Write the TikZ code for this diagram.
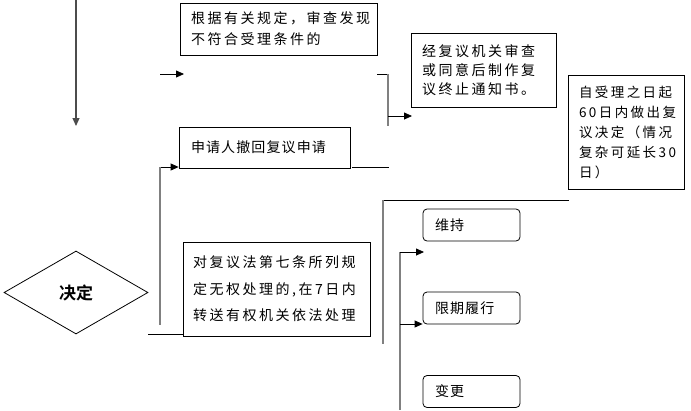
\documentclass[tikz,border=0pt]{standalone}
\usepackage{fontspec}
\usetikzlibrary{shapes.geometric,arrows.meta}
\newfontfamily\cjk{Noto Sans CJK SC}[LetterSpace=18]
\newfontfamily\cjkb{Noto Sans CJK SC}[LetterSpace=8]
\newfontfamily\cjkbold{Noto Sans CJK SC Bold}
\tikzset{
  box/.style={draw, rectangle, line width=0.8pt, inner xsep=11pt, inner ysep=0pt, align=left},
  rbox/.style={draw, rectangle, rounded corners=4pt, line width=0.8pt, inner xsep=12pt, inner ysep=0pt, align=left, text width=73pt, minimum height=32pt},
  hline/.style={line width=0.8pt, black},
  vline/.style={line width=1.1pt, gray},
  arr/.style={-{Triangle[length=8pt,width=7pt]}},
}
\begin{document}
\begin{tikzpicture}[x=1pt,y=-1pt]
\useasboundingbox (0,0) rectangle (691,410);
% boxes
\node[box, text width=175pt, minimum height=52pt, font={\cjk\fontsize{14}{21}\selectfont}] (b1) at (278.5,29) {根据有关规定，审查发现\\不符合受理条件的};
\node[box, text width=147pt, minimum height=41pt, inner xsep=12pt, font={\cjkb\fontsize{14}{21}\selectfont}] (b2) at (264.5,147.5) {申请人撤回复议申请};
\node[box, text width=123pt, minimum height=74pt, font={\cjk\fontsize{14}{19}\selectfont}] (b3) at (483.5,70) {经复议机关审查\\或同意后制作复\\议终止通知书。};
\node[box, text width=94pt, minimum height=114pt, font={\cjk\fontsize{13.5}{20}\selectfont}] (b4) at (626,132) {自受理之日起\\60日内做出复\\议决定（情况\\复杂可延长30\\日）};
\node[box, text width=167pt, minimum height=94pt, inner xsep=10pt, font={\cjk\fontsize{14}{26.5}\selectfont}] (b5) at (276.5,289) {对复议法第七条所列规\\定无权处理的,在7日内\\转送有权机关依法处理};
\node[draw, diamond, line width=0.8pt, minimum width=144pt, minimum height=83pt, inner sep=0pt, font={\cjkbold\fontsize{17}{18}\selectfont}] (d) at (76,292.5) {决定};
\node[rbox, font={\cjkb\fontsize{14}{18}\selectfont}] (r1) at (471.5,225) {维持};
\node[rbox, font={\cjkb\fontsize{14}{18}\selectfont}] (r2) at (471.5,308) {限期履行};
\node[rbox, font={\cjkb\fontsize{14}{18}\selectfont}] (r3) at (471.5,391.5) {变更};
% free ends
\coordinate (top) at (76,0);
\coordinate (topend) at (76,126);
\coordinate (a1s) at (160,74);
\coordinate (a1e) at (184,74);
\coordinate (k1) at (377,74);
\coordinate (k2) at (388,126);
\coordinate (k3) at (388,116);
\coordinate (k4) at (412,116);
\coordinate (l1) at (352,167);
\coordinate (l2) at (389,167);
\coordinate (v1) at (160,167);
\coordinate (v2) at (160,325);
\coordinate (h1) at (148,334.5);
\coordinate (s1) at (569,200);
\coordinate (s2) at (383,200);
\coordinate (s3) at (383,344);
\coordinate (t1) at (400,410);
\coordinate (t2) at (400,252);
\coordinate (t3) at (424,252);
\coordinate (t4) at (400,324);
% connectors
\draw[vline, arr, black!70] (top) -- (topend);
\draw[hline, arr] (a1s) -- (a1e);
\draw[hline] (k1) -- (k1 -| k2);
\draw[vline] (k1 -| k2) -- (k2);
\draw[hline, arr] (k3) -- (k4);
\draw[hline] (l1) -- (l2);
\draw[hline, arr] (v1) -- (v1 -| b2.west);
\draw[vline] (v1) -- (v2);
\draw[hline] (h1) -- (h1 -| b5.west);
\draw[hline] (s1) -- (s2);
\draw[vline] (s2) -- (s3);
\draw[vline] (t1) -- (t2);
\draw[hline, arr] (t2) -- (t3);
\draw[hline, arr] (t4) -- (t4 -| r2.west);
\end{tikzpicture}
\end{document}
